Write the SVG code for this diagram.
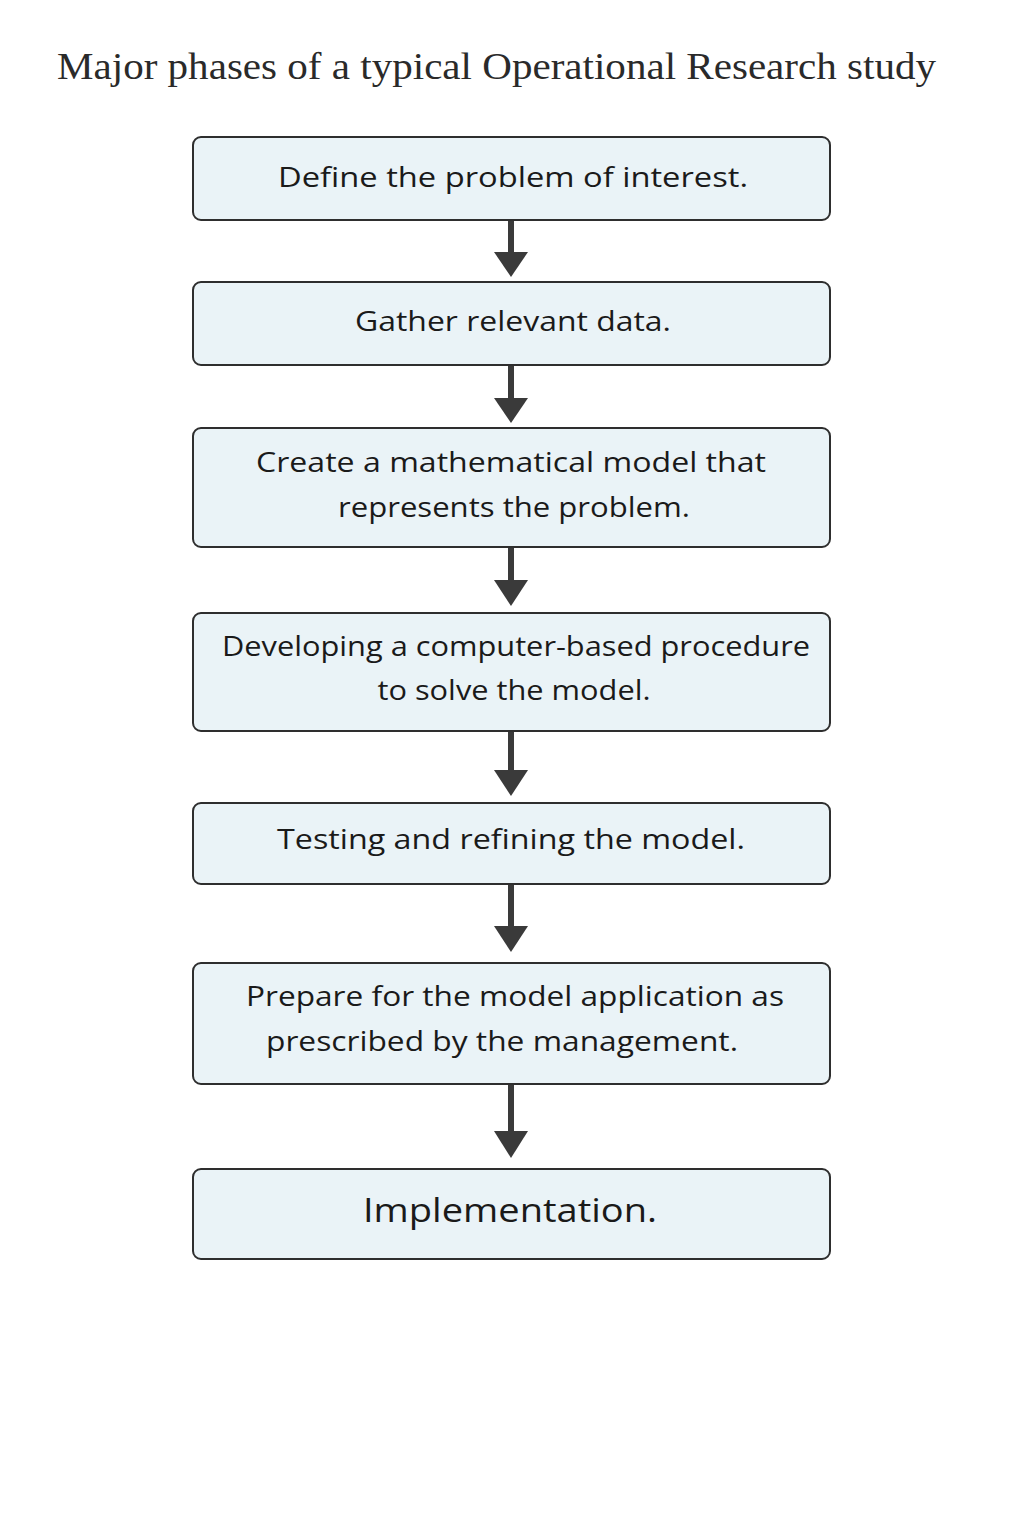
<svg xmlns="http://www.w3.org/2000/svg" width="1024" height="1536" viewBox="0 0 1024 1536">
<style>
.box{fill:#eaf3f7;stroke:#2e2e2e;stroke-width:2}
.t{font-family:"Open Sans","Noto Sans",sans-serif;font-size:28px;fill:#1a1a1a;text-anchor:middle}
.title{font-family:"Liberation Serif","DejaVu Serif",serif;font-size:37px;fill:#2a2a2a}
.shaft{stroke:#3a3a3a;stroke-width:6}
.head{fill:#3a3a3a}
</style>
<rect width="1024" height="1536" fill="#ffffff"/>
<text class="title" x="57" y="79" textLength="879" lengthAdjust="spacingAndGlyphs">Major phases of a typical Operational Research study</text>
<g id="connectors">
<line class="shaft" x1="511" y1="221" x2="511" y2="254"/><polygon class="head" points="494,252 528,252 511,277"/>
<line class="shaft" x1="511" y1="366" x2="511" y2="400"/><polygon class="head" points="494,398 528,398 511,423"/>
<line class="shaft" x1="511" y1="548" x2="511" y2="582"/><polygon class="head" points="494,580 528,580 511,606"/>
<line class="shaft" x1="511" y1="732" x2="511" y2="772"/><polygon class="head" points="494,770 528,770 511,796"/>
<line class="shaft" x1="511" y1="885" x2="511" y2="928"/><polygon class="head" points="494,926 528,926 511,952"/>
<line class="shaft" x1="511" y1="1085" x2="511" y2="1133"/><polygon class="head" points="494,1131 528,1131 511,1158"/>
</g>
<g id="n1"><rect class="box" x="193" y="137" width="637" height="83" rx="8"/><text class="t" x="513" y="187" textLength="470" lengthAdjust="spacingAndGlyphs">Define the problem of interest.</text></g>
<g id="n2"><rect class="box" x="193" y="282" width="637" height="83" rx="8"/><text class="t" x="513" y="331" textLength="316" lengthAdjust="spacingAndGlyphs">Gather relevant data.</text></g>
<g id="n3"><rect class="box" x="193" y="428" width="637" height="119" rx="8"/><text class="t" x="511" y="472" textLength="510" lengthAdjust="spacingAndGlyphs">Create a mathematical model that</text><text class="t" x="514" y="517" textLength="352" lengthAdjust="spacingAndGlyphs">represents the problem.</text></g>
<g id="n4"><rect class="box" x="193" y="613" width="637" height="118" rx="8"/><text class="t" x="516" y="656" textLength="588" lengthAdjust="spacingAndGlyphs">Developing a computer-based procedure</text><text class="t" x="514" y="700" textLength="273" lengthAdjust="spacingAndGlyphs">to solve the model.</text></g>
<g id="n5"><rect class="box" x="193" y="803" width="637" height="81" rx="8"/><text class="t" x="511" y="849" textLength="468" lengthAdjust="spacingAndGlyphs">Testing and refining the model.</text></g>
<g id="n6"><rect class="box" x="193" y="963" width="637" height="121" rx="8"/><text class="t" x="515" y="1006" textLength="538" lengthAdjust="spacingAndGlyphs">Prepare for the model application as</text><text class="t" x="502" y="1051" textLength="472" lengthAdjust="spacingAndGlyphs">prescribed by the management.</text></g>
<g id="n7"><rect class="box" x="193" y="1169" width="637" height="90" rx="8"/><text class="t" x="510" y="1222" style="font-size:32px" textLength="294" lengthAdjust="spacingAndGlyphs">Implementation.</text></g>
</svg>
